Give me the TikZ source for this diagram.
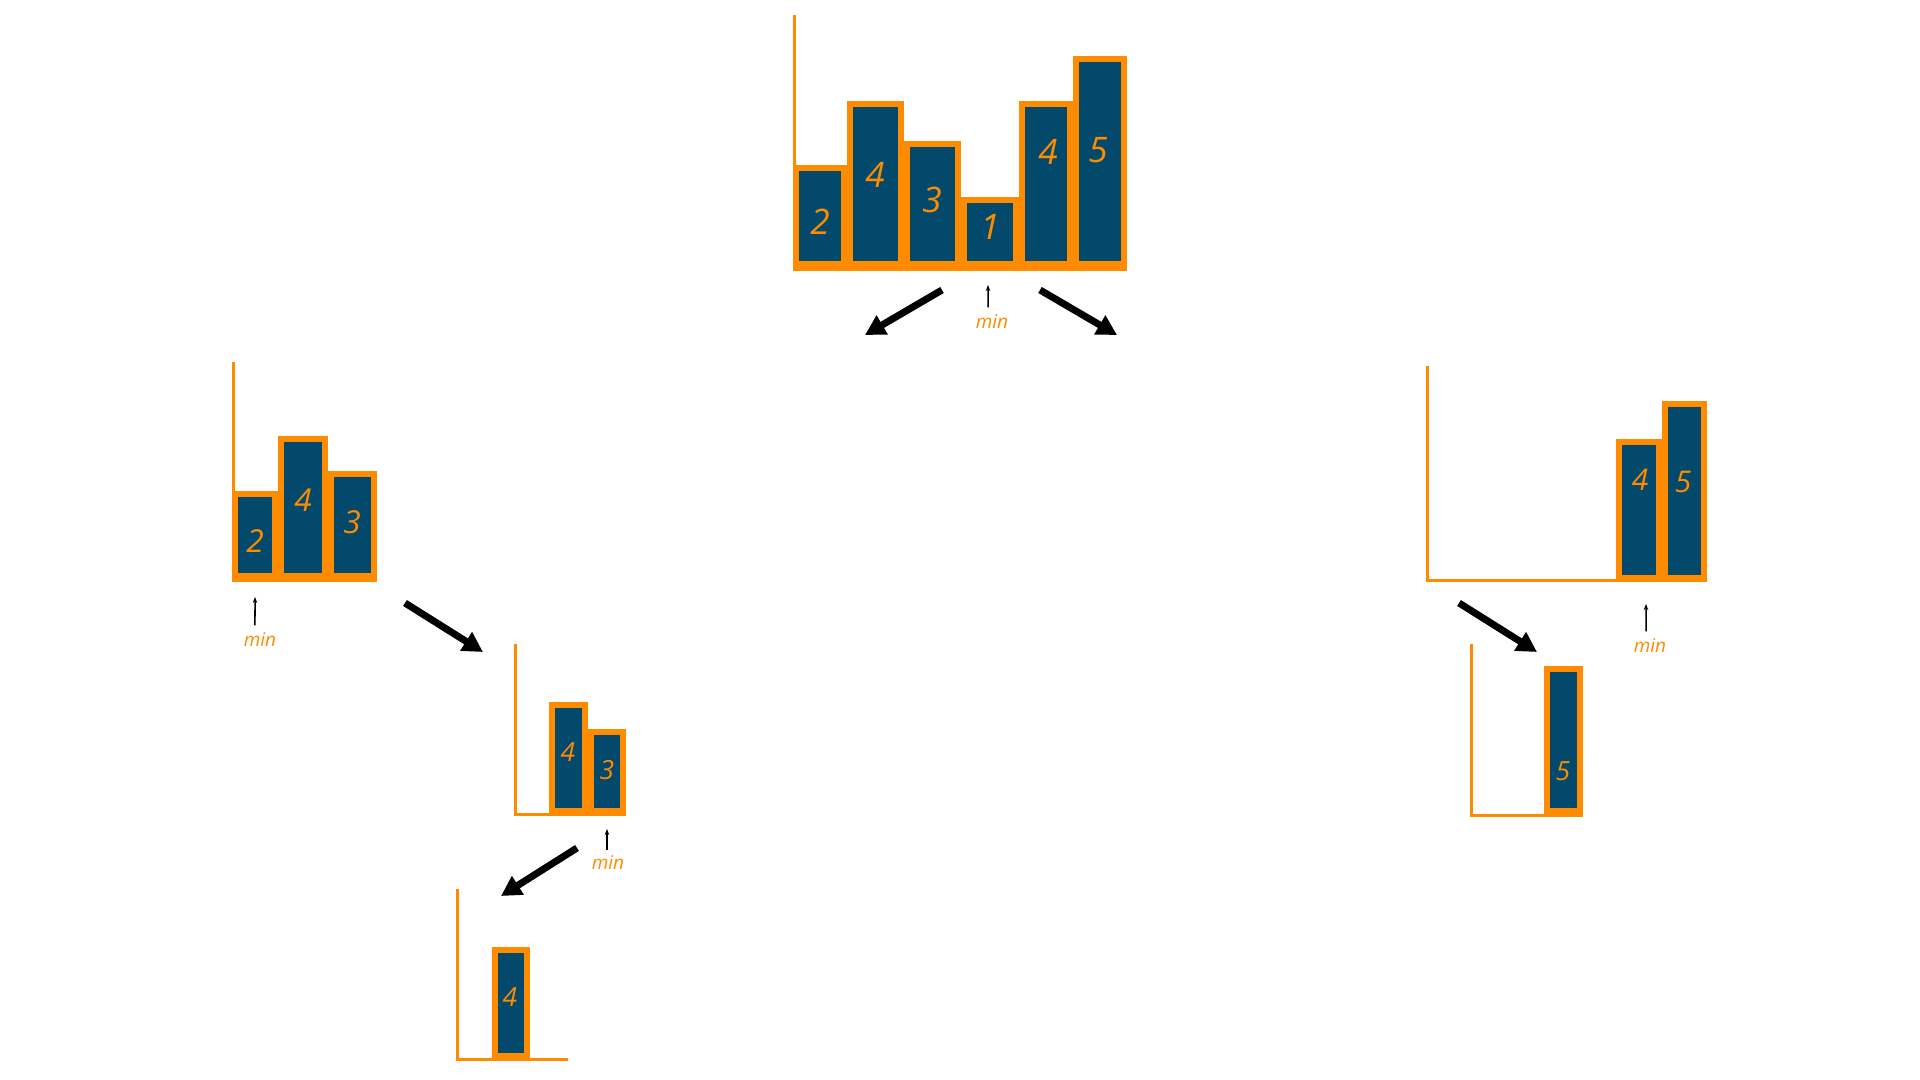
\documentclass[tikz,border=0pt]{standalone}
\usepackage{fontspec}
\setmainfont{Open Sans}
\usetikzlibrary{arrows.meta}
\definecolor{barorange}{HTML}{FF8C00}
\definecolor{barblue}{HTML}{03496B}

\begin{document}
\begin{tikzpicture}[x=0.01cm,y=-0.01cm,
	histbar/.style={fill=barblue,draw=barorange,line width=0.06cm},
	barbase/.style={fill=barorange},
	axisline/.style={draw=barorange,line width=0.03cm},
	digit/.style={text=barorange,inner sep=0pt,font=\itshape\fontsize{#1}{#1}\selectfont},
	digit/.default=10,
	minlabel/.style={text=barorange,inner sep=0pt,font=\itshape\fontsize{5.4}{5.4}\selectfont},
	minarrow/.style={draw=black,line width=0.015cm,-{Stealth[length=0.06cm,width=0.045cm]}},
	splitarrow/.style={draw=black,line width=0.07cm,-{Triangle[length=0.2cm,width=0.21cm]}}]

	\useasboundingbox (0,0) rectangle (1920,1080);

	% whole array
	\draw[axisline] (794.5,15) -- (794.5,170);
	\fill[barbase] (793,261) rectangle (1127,271);
	\draw[histbar] (796,168) rectangle (844,264);
	\draw[histbar] (850,104) rectangle (901,264);
	\draw[histbar] (907,144) rectangle (958,264);
	\draw[histbar] (964,200) rectangle (1016,264);
	\draw[histbar] (1022,104) rectangle (1070,264);
	\draw[histbar] (1076,59) rectangle (1124,264);
	\node[digit] (t1) at (820,222) {2};
	\node[digit] (t2) at (875,175) {4};
	\node[digit] (t3) at (932,200) {3};
	\node[digit] (t4) at (990,227) {1};
	\node[digit] (t5) at (1048,152) {4};
	\node[digit] (t6) at (1098,150) {5};
	\node[minlabel] (tmin) at (992,322) {min};
	\coordinate (tmintip) at (988,285);
	\draw[minarrow] ([xshift=-0.04cm,yshift=0.07cm]tmin.north) -- (tmintip);

	% left part
	\draw[axisline] (233.5,362) -- (233.5,495);
	\fill[barbase] (232,573) rectangle (377,582);
	\draw[histbar] (235,494) rectangle (275,576);
	\draw[histbar] (281,439) rectangle (325,576);
	\draw[histbar] (331,474) rectangle (374,576);
	\node[digit=9] (l1) at (255,541) {2};
	\node[digit=9] (l2) at (303,500) {4};
	\node[digit=9] (l3) at (352,522) {3};
	\node[minlabel] (lmin) at (260,640) {min};
	\coordinate (lmintip) at (255,597);
	\draw[minarrow] ([xshift=-0.05cm,yshift=0.07cm]lmin.north) -- (lmintip);

	% right part
	\draw[axisline] (1427.5,366) -- (1427.5,580.5) -- (1618,580.5);
	\fill[barbase] (1616,575) rectangle (1707,582);
	\draw[histbar] (1619,442) rectangle (1659,578);
	\draw[histbar] (1665,404) rectangle (1704,578);
	\node[digit=8.5] (r1) at (1640,480) {4};
	\node[digit=8.5] (r2) at (1683,482) {5};
	\node[minlabel] (rmin) at (1650,646) {min};
	\coordinate (rmintip) at (1646,604);
	\draw[minarrow] ([xshift=-0.04cm,yshift=0.07cm]rmin.north) -- (rmintip);

	% left part, right of its min
	\draw[axisline] (515,644) -- (515,814.5) -- (551,814.5);
	\fill[barbase] (549,808) rectangle (626,816);
	\draw[histbar] (552,705) rectangle (585,811);
	\draw[histbar] (591,732) rectangle (623,811);
	\node[digit=7.5] (m1) at (568,752) {4};
	\node[digit=7.5] (m2) at (607,770) {3};
	\node[minlabel] (mmin) at (608,863) {min};
	\coordinate (mmintip) at (607,829);
	\draw[minarrow] ([xshift=-0.01cm,yshift=0.05cm]mmin.north) -- (mmintip);

	% last one on the left
	\draw[axisline] (457,889) -- (457,1059.5) -- (568,1059.5);
	\fill[barbase] (492,1053) rectangle (530,1061);
	\draw[histbar] (495,950) rectangle (527,1056);
	\node[digit=7.5] (b1) at (510,997) {4};

	% last one on the right
	\draw[axisline] (1471,644) -- (1471,815.5) -- (1546,815.5);
	\fill[barbase] (1544,808) rectangle (1583,817);
	\draw[histbar] (1547,669) rectangle (1580,811);
	\node[digit=7.5] (s1) at (1563,771) {5};

	% splits
	\coordinate (ta) at (942,290);
	\coordinate (tl) at (865,335);
	\coordinate (tb) at (1040,290);
	\coordinate (tr) at (1117,335);
	\coordinate (la) at (405,603);
	\coordinate (lm) at (483,652);
	\coordinate (ma) at (577,848);
	\coordinate (mb) at (501,896);
	\coordinate (ra) at (1459,603);
	\coordinate (rs) at (1537,652);
	\draw[splitarrow] (ta) -- (tl);
	\draw[splitarrow] (tb) -- (tr);
	\draw[splitarrow] (la) -- (lm);
	\draw[splitarrow] (ma) -- (mb);
	\draw[splitarrow] (ra) -- (rs);

\end{tikzpicture}
\end{document}
